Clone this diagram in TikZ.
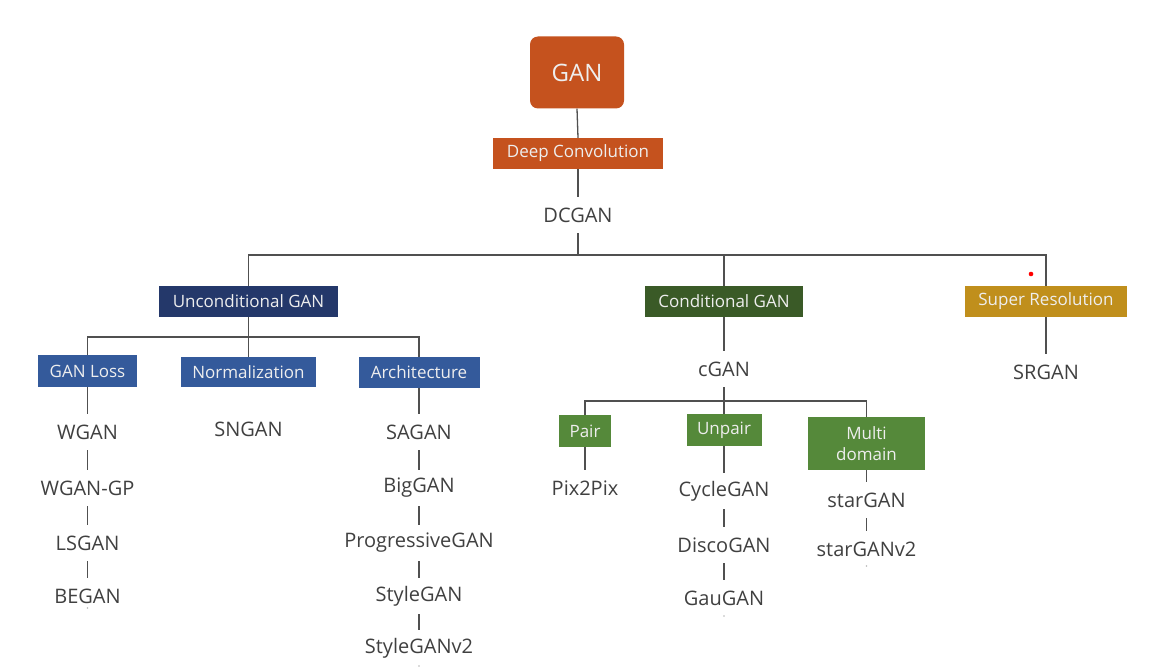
\documentclass[tikz,border=0pt]{standalone}
\usepackage{fontspec}
\setmainfont{Open Sans}
\definecolor{cOrange}{HTML}{C5521E}
\definecolor{cNavy}{HTML}{24386A}
\definecolor{cBlue}{HTML}{345A9B}
\definecolor{cDGreen}{HTML}{3A5A27}
\definecolor{cGreen}{HTML}{55893A}
\definecolor{cGold}{HTML}{C08F1C}
\definecolor{cLine}{HTML}{505050}
\definecolor{cText}{HTML}{404040}
\definecolor{cBoxText}{HTML}{EEEEEE}
\tikzset{
  box/.style={draw=none, inner sep=0pt, text=cBoxText, font=\fontsize{17}{21}\selectfont, align=center},
  lbl/.style={inner sep=0pt, minimum height=36pt, text=cText, font=\fontsize{20}{24}\selectfont},
  conn/.style={draw=cLine, line width=1.3pt},
  speck/.style={fill=gray!55, draw=none, circle, inner sep=0pt, minimum size=1.6pt}
}
\begin{document}
\begin{tikzpicture}[x=1pt,y=-1pt]
\useasboundingbox (0,0) rectangle (1166,668);
\fill[white] (0,0) rectangle (1166,668);
% top
\node[box, fill=cOrange, rounded corners=8pt, minimum width=94pt, minimum height=72pt, font=\fontsize{24}{28}\selectfont] (gan) at (577,72.5) {GAN};
\node[box, fill=cOrange, minimum width=170pt, minimum height=31pt] (deep) at (578,153.5) {Deep Convolution};
\node[lbl] (dcgan) at (578,215) {DCGAN};
% level 2
\node[box, fill=cNavy, minimum width=179pt, minimum height=31pt] (uncond) at (248.5,301.5) {Unconditional GAN};
\node[box, fill=cDGreen, minimum width=158pt, minimum height=31pt] (cond) at (724,301.5) {Conditional GAN};
\node[box, fill=cGold, minimum width=162pt, minimum height=31pt] (sr) at (1046,301.5) {Super Resolution};
\coordinate (b1) at (578,255);
% unconditional subtree
\node[box, fill=cBlue, minimum width=99pt, minimum height=32pt] (loss) at (87.5,371) {GAN Loss};
\node[box, fill=cBlue, minimum width=135pt, minimum height=30pt] (norm) at (248.5,372) {Normalization};
\node[box, fill=cBlue, minimum width=121pt, minimum height=31pt] (arch) at (419,372.5) {Architecture};
\coordinate (b2) at (248.5,337);
\node[lbl] (wgan) at (87.5,432) {WGAN};
\node[lbl] (wgangp) at (87.5,488) {WGAN-GP};
\node[lbl] (lsgan) at (87.5,543) {LSGAN};
\node[lbl] (began) at (87.5,596) {BEGAN};
\node[lbl] (sngan) at (248.5,429) {SNGAN};
\node[lbl] (sagan) at (419,432) {SAGAN};
\node[lbl] (biggan) at (419,488) {BigGAN};
\node[lbl] (prog) at (419,543) {ProgressiveGAN};
\node[lbl] (style) at (419,596) {StyleGAN};
\node[lbl] (style2) at (419,648) {StyleGANv2};
% conditional subtree
\node[lbl] (cgan) at (724,369) {cGAN};
\coordinate (b3) at (724,401);
\node[box, fill=cGreen, minimum width=52pt, minimum height=32pt] (pair) at (585,431) {Pair};
\node[box, fill=cGreen, minimum width=75pt, minimum height=32pt] (unpair) at (724,430) {Unpair};
\node[box, fill=cGreen, minimum width=117pt, minimum height=53pt] (multi) at (866.5,443.5) {Multi\\domain};
\node[lbl] (pix) at (585,488) {Pix2Pix};
\node[lbl] (cycle) at (724,491) {CycleGAN};
\node[lbl] (disco) at (724,545) {DiscoGAN};
\node[lbl] (gau) at (724,598) {GauGAN};
\node[lbl] (star) at (866.5,500) {starGAN};
\node[lbl] (star2) at (866.5,549) {starGANv2};
% super resolution
\node[lbl] (srgan) at (1046,372) {SRGAN};
% connectors
\draw[conn] (gan.south) -- (deep.north);
\draw[conn] (deep.south) -- (dcgan.north);
\draw[conn] (dcgan.south) -- (b1);
\draw[conn] (uncond.north) |- (b1) -| (sr.north);
\draw[conn] (cond.north) -- (cond.north |- b1);
\draw[conn] (uncond.south) -- (norm.north);
\draw[conn] (loss.north) |- (b2) -| (arch.north);
\draw[conn] (loss.south) -- (wgan.north);
\draw[conn] (wgan.south) -- (wgangp.north);
\draw[conn] (wgangp.south) -- (lsgan.north);
\draw[conn] (lsgan.south) -- (began.north);
\draw[conn] (arch.south) -- (sagan.north);
\draw[conn] (sagan.south) -- (biggan.north);
\draw[conn] (biggan.south) -- (prog.north);
\draw[conn] (prog.south) -- (style.north);
\draw[conn] (style.south) -- (style2.north);
\draw[conn] (cond.south) -- (cgan.north);
\draw[conn] (cgan.south) -- (b3);
\draw[conn] (pair.north) |- (b3) -| (multi.north);
\draw[conn] (unpair.north) -- (b3);
\draw[conn] (pair.south) -- (pix.north);
\draw[conn] (unpair.south) -- (cycle.north);
\draw[conn] (cycle.south) -- (disco.north);
\draw[conn] (disco.south) -- (gau.north);
\draw[conn] (multi.south) -- (star.north);
\draw[conn] (star.south) -- (star2.north);
\draw[conn] (sr.south) -- (srgan.north);
% specks
\node[speck] at (87.5,608) {};
\node[speck] at (419,666) {};
\node[speck] at (724,616) {};
\node[speck] at (866.5,566) {};
\fill[red] (1031,274) circle (2.3pt);
\end{tikzpicture}
\end{document}
